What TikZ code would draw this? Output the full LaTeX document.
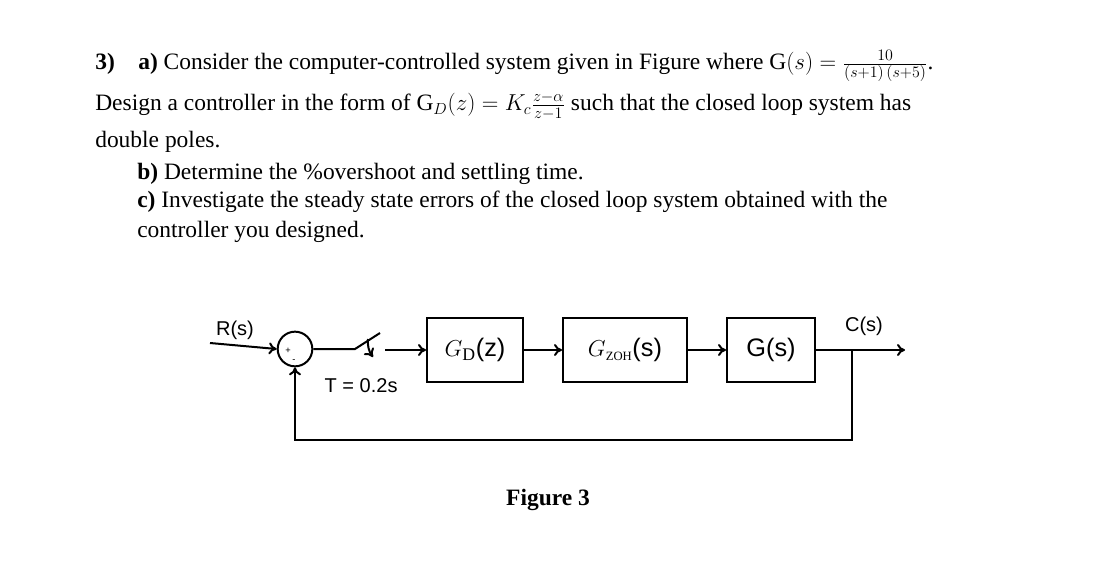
\documentclass[tikz,border=0pt]{standalone}
\usepackage{amsmath}
\usepackage{fontspec}
\setmainfont{Liberation Serif}
\newfontfamily\diagfont{Liberation Sans}
\usetikzlibrary{arrows,arrows.meta,positioning,calc}
\begin{document}
\begin{tikzpicture}[x=0.75pt,y=-0.75pt,
  blk/.style={draw, line width=1.5pt, minimum height=48pt, inner sep=0pt, font=\diagfont\fontsize{19}{19}\selectfont},
  sig/.style={-{To[length=6pt,width=9pt]}, line width=1.5pt},
  txt/.style={anchor=base west, inner sep=0pt, font=\fontsize{17.6}{21}\selectfont}]
\useasboundingbox (0,0) rectangle (1116,577);
% problem text
\node[txt] (l1) at (95,70) {\textbf{3)}\quad\textbf{a)} Consider the computer-controlled system given in Figure\ where $\mathrm{G}(s)=\frac{10}{(s+1)\,(s+5)}$.};
\node[txt] (l2) at (95,111) {Design a controller in the form of $\mathrm{G}_D(z)=K_c\frac{z-\alpha}{z-1}$ such that the closed loop system has};
\node[txt] (l3) at (95,148) {double poles.};
\node[txt] (l4) at (137,180) {\textbf{b)} Determine the \%overshoot and settling time.};
\node[txt] (l5) at (137,208) {\textbf{c)} Investigate the steady state errors of the closed loop system obtained with the};
\node[txt] (l6) at (137,238) {controller you designed.};
% block diagram
\node[draw, circle, line width=1.5pt, minimum size=26pt, inner sep=0pt] (sum) at (295,349) {};
\node[font=\diagfont\fontsize{7}{7}\selectfont] at (288,351) {+};
\node[font=\diagfont\fontsize{7}{7}\selectfont] at (294,361) {-};
\node[blk, minimum width=72pt] (gd) at (475,350) {$G_{\mathrm D}$(z)};
\node[blk, minimum width=93pt] (gzoh) at (625,350) {$G_{\mathrm{\scriptscriptstyle ZOH}}$(s)};
\node[blk, minimum width=66pt] (g) at (771,350) {G(s)};
\coordinate (in) at (210,343);
\coordinate (sw1) at (355,349);
\coordinate (sw2) at (380,333);
\coordinate (sw3) at (385,350);
\coordinate (tap) at (852,350);
\coordinate (out) at (905,350);
\coordinate (fb1) at (852,440);
\node[font=\diagfont\fontsize{15}{15}\selectfont] (rs) at (235,330) {R(s)};
\node[font=\diagfont\fontsize{15}{15}\selectfont] (cs) at (864,326) {C(s)};
\node[font=\diagfont\fontsize{15}{15}\selectfont, anchor=west] (tt) at (320,386) {T = 0.2s};
\draw[sig] (in) -- (sum.west);
\draw[line width=1.5pt] (sum.east) -- (sw1) -- (sw2);
\draw[sig] (368,339) to[bend right=20] (373,357);
\draw[sig] (sw3) -- (gd.west);
\draw[sig] (gd.east) -- (gzoh.west);
\draw[sig] (gzoh.east) -- (g.west);
\draw[sig] (g.east) -- (out);
\draw[sig] (tap) -- (fb1) -| (sum.south);
\node[font=\bfseries\fontsize{17.6}{21}\selectfont] (fig) at (548,500) {Figure 3};
\end{tikzpicture}
\end{document}
